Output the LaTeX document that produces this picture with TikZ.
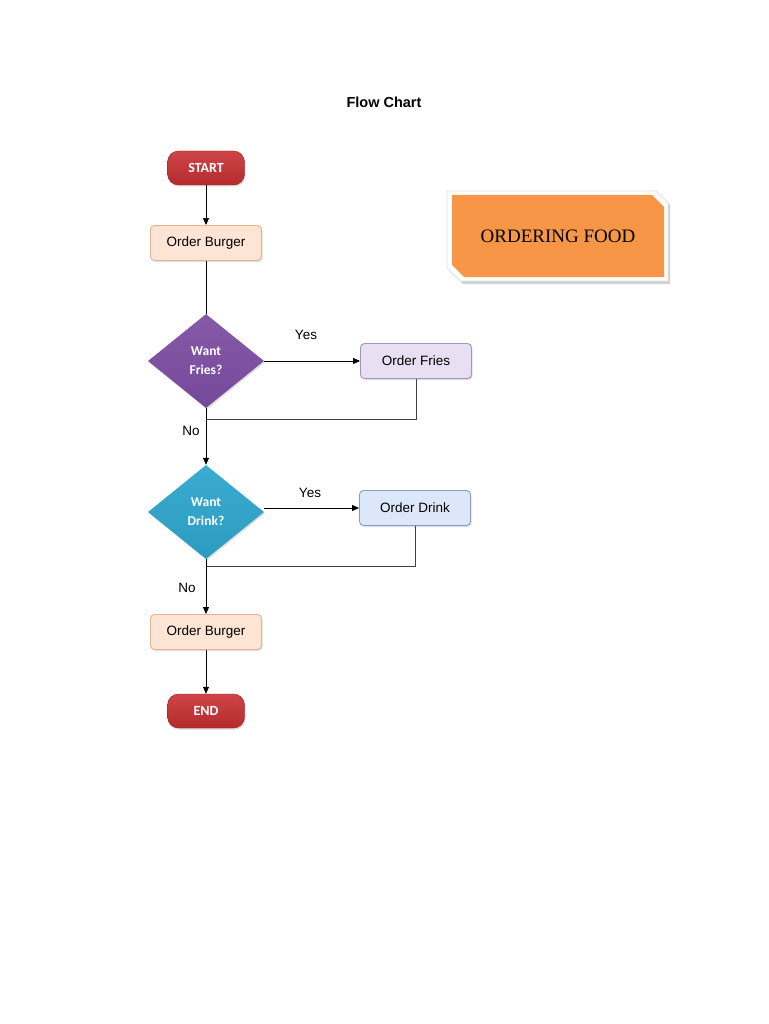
\documentclass[tikz,border=0pt]{standalone}
\usepackage{fontspec}
\setmainfont{Liberation Sans}
\newfontfamily\carlitofont{Carlito}
\newfontfamily\tmsfont{Liberation Serif}
\usetikzlibrary{shapes.geometric,arrows.meta,shadows}
\definecolor{termred}{HTML}{B52A2D}
\definecolor{termredtop}{HTML}{CF4447}
\definecolor{peach}{HTML}{FDE4D4}
\definecolor{peachline}{HTML}{EDB08C}
\definecolor{lav}{HTML}{E8DFF3}
\definecolor{lavline}{HTML}{A591C4}
\definecolor{lblue}{HTML}{DCE8FA}
\definecolor{lblueline}{HTML}{7E9FD2}
\definecolor{purp}{HTML}{75499A}
\definecolor{purptop}{HTML}{8759A8}
\definecolor{teal}{HTML}{2C9BC0}
\definecolor{tealtop}{HTML}{3AACD0}
\definecolor{orangebox}{HTML}{F79646}
\tikzset{
  term/.style={rectangle, rounded corners=11pt, minimum width=77pt, minimum height=34pt,
    top color=termredtop, bottom color=termred, draw=termred!80!black, line width=0.4pt,
    text=white, font=\carlitofont\bfseries\fontsize{14}{16}\selectfont,
    drop shadow={shadow xshift=1pt, shadow yshift=-1.5pt, opacity=0.3}},
  procbox/.style={rectangle, rounded corners=4pt, minimum width=111pt, minimum height=35pt,
    line width=0.9pt, font=\fontsize{13.5}{16}\selectfont,
    drop shadow={shadow xshift=1pt, shadow yshift=-1.5pt, opacity=0.25}},
  decision/.style={diamond, minimum width=116pt, minimum height=94pt, inner sep=0pt,
    text=white, font=\carlitofont\bfseries\fontsize{13.5}{19}\selectfont, align=center,
    drop shadow={shadow xshift=1pt, shadow yshift=-1.5pt, opacity=0.25}},
  flow/.style={-{Triangle[length=7pt,width=6pt]}, line width=0.7pt, black},
  back/.style={line width=0.7pt, black!75},
  lbl/.style={font=\fontsize{13.5}{16}\selectfont, inner sep=0pt}
}
\begin{document}
\begin{tikzpicture}[x=1pt,y=-1pt]
\useasboundingbox (0,0) rectangle (768,1024);
\fill[white] (0,0) rectangle (768,1024);

\node[font=\bfseries\fontsize{14.5}{17}\selectfont] (title) at (384,102) {Flow Chart};

% Ordering food box
\fill[black, opacity=0.18] (450,194) -- (659,194) -- (670,205) -- (670,284) -- (463,284) -- (450,271) -- cycle;
\filldraw[fill=white, draw=black!12, line width=0.8pt] (447,191) -- (656,191) -- (668,203) -- (668,281) -- (460,281) -- (447,268) -- cycle;
\fill[orangebox] (452,195) -- (652,195) -- (664,207) -- (664,277) -- (464,277) -- (452,265) -- cycle;
\node[font=\tmsfont\fontsize{19}{22}\selectfont] (of) at (558,236) {ORDERING FOOD};

\node[term] (start) at (206,168) {START};
\node[procbox, fill=peach, draw=peachline] (ob1) at (206,243) {Order Burger};
\node[decision, top color=purptop, bottom color=purp] (d1) at (206,361) {Want\\Fries?};
\node[procbox, fill=lav, draw=lavline] (fries) at (416,361) {Order Fries};
\node[decision, top color=tealtop, bottom color=teal] (d2) at (206,512) {Want\\Drink?};
\node[procbox, fill=lblue, draw=lblueline] (drink) at (415,508) {Order Drink};
\node[procbox, fill=peach, draw=peachline] (ob2) at (206,632) {Order Burger};
\node[term] (end) at (206,711) {END};

\coordinate (j1) at (206,419);
\coordinate (j2) at (206,566);

\draw[flow] (start) -- (ob1);
\draw[line width=0.7pt] (ob1) -- (d1);
\draw[flow] (d1.east) -- (fries.west);
\draw[flow] (d2.east |- drink.west) -- (drink.west);
\draw[back] (fries.south) |- (j1);
\draw[flow] (d1.south) -- (d2.north);
\draw[back] (drink.south) |- (j2);
\draw[flow] (d2.south) -- (ob2.north);
\draw[flow] (ob2) -- (end);

\node[lbl] (y1) at (306,335) {Yes};
\node[lbl] (n1) at (191,431) {No};
\node[lbl] (y2) at (310,493) {Yes};
\node[lbl] (n2) at (187,588) {No};
\end{tikzpicture}
\end{document}
